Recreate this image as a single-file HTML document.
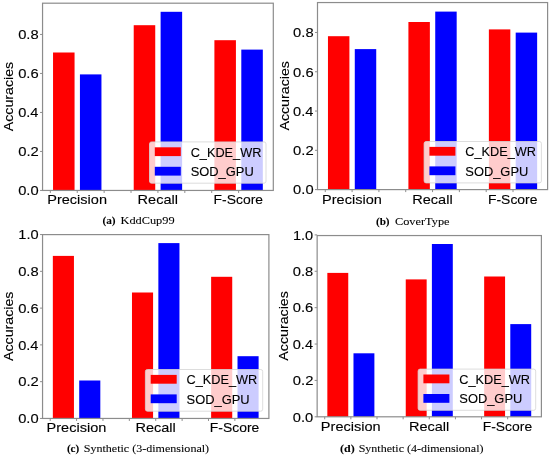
<!DOCTYPE html>
<html><head><meta charset="utf-8"><title>Accuracies</title>
<style>
html,body{margin:0;padding:0;background:#fff;}
body{width:550px;height:457px;overflow:hidden;}
svg{display:block;will-change:transform;}
text{font-family:"Liberation Sans",sans-serif;font-size:13.3px;fill:#000;stroke:#000;stroke-width:0.12px;}
text.cap,text.capb{font-family:"Liberation Serif",serif;font-size:10.8px;fill:#000;stroke:#000;stroke-width:0.08px;}
text.capb{font-weight:bold;}
</style></head>
<body>
<svg width="550" height="457" viewBox="0 0 550 457">
<rect width="550" height="457" fill="#fff"/>
<rect x="53.04" y="52.5" width="21.52" height="137.95" fill="#ff0000"/>
<rect x="79.93" y="74.4" width="21.52" height="116.05" fill="#0000ff"/>
<rect x="133.72" y="25.2" width="21.52" height="165.25" fill="#ff0000"/>
<rect x="160.61" y="11.8" width="21.52" height="178.65" fill="#0000ff"/>
<rect x="214.4" y="40.2" width="21.52" height="150.25" fill="#ff0000"/>
<rect x="241.3" y="49.6" width="21.52" height="140.85" fill="#0000ff"/>
<rect x="149.5" y="141.9" width="116.5" height="41.3" rx="2" ry="2" fill="#fff" fill-opacity="0.8" stroke="#d4d4d4" stroke-width="0.8"/>
<rect x="154.8" y="147.3" width="26" height="8.8" fill="#ff0000"/>
<rect x="154.8" y="166.8" width="26" height="8.8" fill="#0000ff"/>
<text x="190.65" y="156.6" textLength="70.74" lengthAdjust="spacingAndGlyphs">C_KDE_WR</text>
<text x="190.71" y="176.1" textLength="62.99" lengthAdjust="spacingAndGlyphs">SOD_GPU</text>
<rect x="42.55" y="3.2" width="230.75" height="187.25" fill="none" stroke="#8c8c8c" stroke-width="1.2"/>
<line x1="40.05" y1="190.45" x2="42.55" y2="190.45" stroke="#8c8c8c" stroke-width="1"/>
<text x="18.18" y="195.25" textLength="20.45" lengthAdjust="spacingAndGlyphs">0.0</text>
<line x1="40.05" y1="151.45" x2="42.55" y2="151.45" stroke="#8c8c8c" stroke-width="1"/>
<text x="18.17" y="156.25" textLength="20.62" lengthAdjust="spacingAndGlyphs">0.2</text>
<line x1="40.05" y1="112.45" x2="42.55" y2="112.45" stroke="#8c8c8c" stroke-width="1"/>
<text x="18.18" y="117.25" textLength="20.29" lengthAdjust="spacingAndGlyphs">0.4</text>
<line x1="40.05" y1="73.45" x2="42.55" y2="73.45" stroke="#8c8c8c" stroke-width="1"/>
<text x="18.17" y="78.25" textLength="20.53" lengthAdjust="spacingAndGlyphs">0.6</text>
<line x1="40.05" y1="34.45" x2="42.55" y2="34.45" stroke="#8c8c8c" stroke-width="1"/>
<text x="18.17" y="39.25" textLength="20.51" lengthAdjust="spacingAndGlyphs">0.8</text>
<line x1="50.35" y1="190.45" x2="50.35" y2="192.95" stroke="#8c8c8c" stroke-width="1"/>
<line x1="77.24" y1="190.45" x2="77.24" y2="192.95" stroke="#8c8c8c" stroke-width="1"/>
<line x1="104.14" y1="190.45" x2="104.14" y2="192.95" stroke="#8c8c8c" stroke-width="1"/>
<line x1="131.03" y1="190.45" x2="131.03" y2="192.95" stroke="#8c8c8c" stroke-width="1"/>
<line x1="157.93" y1="190.45" x2="157.93" y2="192.95" stroke="#8c8c8c" stroke-width="1"/>
<line x1="184.82" y1="190.45" x2="184.82" y2="192.95" stroke="#8c8c8c" stroke-width="1"/>
<line x1="211.71" y1="190.45" x2="211.71" y2="192.95" stroke="#8c8c8c" stroke-width="1"/>
<line x1="238.61" y1="190.45" x2="238.61" y2="192.95" stroke="#8c8c8c" stroke-width="1"/>
<text x="47.25" y="204.1" textLength="59.73" lengthAdjust="spacingAndGlyphs">Precision</text>
<text x="137.63" y="204.1" textLength="40.36" lengthAdjust="spacingAndGlyphs">Recall</text>
<text x="213.62" y="204.1" textLength="49.45" lengthAdjust="spacingAndGlyphs">F-Score</text>
<g transform="translate(12.7,96.82) rotate(-90)"><text x="-34.48" y="0" textLength="69.43" lengthAdjust="spacingAndGlyphs">Accuracies</text></g>
<text class="capb" x="102.4" y="224.4" textLength="13.2" lengthAdjust="spacingAndGlyphs">(a)</text>
<text class="cap" x="120.54" y="224.4" textLength="54.06" lengthAdjust="spacingAndGlyphs">KddCup99</text>
<rect x="327.96" y="36.2" width="21.45" height="153.4" fill="#ff0000"/>
<rect x="354.78" y="49.1" width="21.45" height="140.5" fill="#0000ff"/>
<rect x="408.41" y="22" width="21.45" height="167.6" fill="#ff0000"/>
<rect x="435.23" y="11.6" width="21.45" height="178" fill="#0000ff"/>
<rect x="488.87" y="29.4" width="21.45" height="160.2" fill="#ff0000"/>
<rect x="515.69" y="32.6" width="21.45" height="157" fill="#0000ff"/>
<rect x="424.1" y="141.5" width="117.3" height="41.4" rx="2" ry="2" fill="#fff" fill-opacity="0.8" stroke="#d4d4d4" stroke-width="0.8"/>
<rect x="429.4" y="146.9" width="26" height="8.8" fill="#ff0000"/>
<rect x="429.4" y="166.4" width="26" height="8.8" fill="#0000ff"/>
<text x="465.25" y="156.2" textLength="70.74" lengthAdjust="spacingAndGlyphs">C_KDE_WR</text>
<text x="465.31" y="175.7" textLength="62.99" lengthAdjust="spacingAndGlyphs">SOD_GPU</text>
<rect x="317.5" y="2.55" width="230.1" height="187.05" fill="none" stroke="#8c8c8c" stroke-width="1.2"/>
<line x1="315" y1="189.6" x2="317.5" y2="189.6" stroke="#8c8c8c" stroke-width="1"/>
<text x="293.13" y="194.4" textLength="20.45" lengthAdjust="spacingAndGlyphs">0.0</text>
<line x1="315" y1="150.32" x2="317.5" y2="150.32" stroke="#8c8c8c" stroke-width="1"/>
<text x="293.12" y="155.12" textLength="20.62" lengthAdjust="spacingAndGlyphs">0.2</text>
<line x1="315" y1="111.04" x2="317.5" y2="111.04" stroke="#8c8c8c" stroke-width="1"/>
<text x="293.13" y="115.84" textLength="20.29" lengthAdjust="spacingAndGlyphs">0.4</text>
<line x1="315" y1="71.76" x2="317.5" y2="71.76" stroke="#8c8c8c" stroke-width="1"/>
<text x="293.12" y="76.56" textLength="20.53" lengthAdjust="spacingAndGlyphs">0.6</text>
<line x1="315" y1="32.48" x2="317.5" y2="32.48" stroke="#8c8c8c" stroke-width="1"/>
<text x="293.12" y="37.28" textLength="20.51" lengthAdjust="spacingAndGlyphs">0.8</text>
<line x1="325.28" y1="189.6" x2="325.28" y2="192.1" stroke="#8c8c8c" stroke-width="1"/>
<line x1="352.1" y1="189.6" x2="352.1" y2="192.1" stroke="#8c8c8c" stroke-width="1"/>
<line x1="378.91" y1="189.6" x2="378.91" y2="192.1" stroke="#8c8c8c" stroke-width="1"/>
<line x1="405.73" y1="189.6" x2="405.73" y2="192.1" stroke="#8c8c8c" stroke-width="1"/>
<line x1="432.55" y1="189.6" x2="432.55" y2="192.1" stroke="#8c8c8c" stroke-width="1"/>
<line x1="459.37" y1="189.6" x2="459.37" y2="192.1" stroke="#8c8c8c" stroke-width="1"/>
<line x1="486.19" y1="189.6" x2="486.19" y2="192.1" stroke="#8c8c8c" stroke-width="1"/>
<line x1="513" y1="189.6" x2="513" y2="192.1" stroke="#8c8c8c" stroke-width="1"/>
<text x="322.1" y="203.6" textLength="59.73" lengthAdjust="spacingAndGlyphs">Precision</text>
<text x="412.26" y="203.6" textLength="40.36" lengthAdjust="spacingAndGlyphs">Recall</text>
<text x="488.01" y="203.6" textLength="49.45" lengthAdjust="spacingAndGlyphs">F-Score</text>
<g transform="translate(288.6,96.08) rotate(-90)"><text x="-34.48" y="0" textLength="69.43" lengthAdjust="spacingAndGlyphs">Accuracies</text></g>
<text class="capb" x="375.91" y="224.6" textLength="13.69" lengthAdjust="spacingAndGlyphs">(b)</text>
<text class="cap" x="395" y="224.6" textLength="54.53" lengthAdjust="spacingAndGlyphs">CoverType</text>
<rect x="52.84" y="255.9" width="21.1" height="162.55" fill="#ff0000"/>
<rect x="79.22" y="380.5" width="21.1" height="37.95" fill="#0000ff"/>
<rect x="131.98" y="292.5" width="21.1" height="125.95" fill="#ff0000"/>
<rect x="158.36" y="243.1" width="21.1" height="175.35" fill="#0000ff"/>
<rect x="211.13" y="276.8" width="21.1" height="141.65" fill="#ff0000"/>
<rect x="237.51" y="356.2" width="21.1" height="62.25" fill="#0000ff"/>
<rect x="145.4" y="369.5" width="117.3" height="41.7" rx="2" ry="2" fill="#fff" fill-opacity="0.8" stroke="#d4d4d4" stroke-width="0.8"/>
<rect x="150.7" y="374.9" width="26" height="8.8" fill="#ff0000"/>
<rect x="150.7" y="394.4" width="26" height="8.8" fill="#0000ff"/>
<text x="186.55" y="384.2" textLength="70.74" lengthAdjust="spacingAndGlyphs">C_KDE_WR</text>
<text x="186.61" y="403.7" textLength="62.99" lengthAdjust="spacingAndGlyphs">SOD_GPU</text>
<rect x="42.55" y="234.6" width="226.35" height="183.85" fill="none" stroke="#8c8c8c" stroke-width="1.2"/>
<line x1="40.05" y1="418.45" x2="42.55" y2="418.45" stroke="#8c8c8c" stroke-width="1"/>
<text x="18.18" y="423.25" textLength="20.45" lengthAdjust="spacingAndGlyphs">0.0</text>
<line x1="40.05" y1="381.67" x2="42.55" y2="381.67" stroke="#8c8c8c" stroke-width="1"/>
<text x="18.17" y="386.47" textLength="20.62" lengthAdjust="spacingAndGlyphs">0.2</text>
<line x1="40.05" y1="344.89" x2="42.55" y2="344.89" stroke="#8c8c8c" stroke-width="1"/>
<text x="18.18" y="349.69" textLength="20.29" lengthAdjust="spacingAndGlyphs">0.4</text>
<line x1="40.05" y1="308.11" x2="42.55" y2="308.11" stroke="#8c8c8c" stroke-width="1"/>
<text x="18.17" y="312.91" textLength="20.53" lengthAdjust="spacingAndGlyphs">0.6</text>
<line x1="40.05" y1="271.33" x2="42.55" y2="271.33" stroke="#8c8c8c" stroke-width="1"/>
<text x="18.17" y="276.13" textLength="20.51" lengthAdjust="spacingAndGlyphs">0.8</text>
<line x1="40.05" y1="234.55" x2="42.55" y2="234.55" stroke="#8c8c8c" stroke-width="1"/>
<text x="18.34" y="239.35" textLength="20.28" lengthAdjust="spacingAndGlyphs">1.0</text>
<line x1="50.2" y1="418.45" x2="50.2" y2="420.95" stroke="#8c8c8c" stroke-width="1"/>
<line x1="76.58" y1="418.45" x2="76.58" y2="420.95" stroke="#8c8c8c" stroke-width="1"/>
<line x1="102.96" y1="418.45" x2="102.96" y2="420.95" stroke="#8c8c8c" stroke-width="1"/>
<line x1="129.34" y1="418.45" x2="129.34" y2="420.95" stroke="#8c8c8c" stroke-width="1"/>
<line x1="155.72" y1="418.45" x2="155.72" y2="420.95" stroke="#8c8c8c" stroke-width="1"/>
<line x1="182.11" y1="418.45" x2="182.11" y2="420.95" stroke="#8c8c8c" stroke-width="1"/>
<line x1="208.49" y1="418.45" x2="208.49" y2="420.95" stroke="#8c8c8c" stroke-width="1"/>
<line x1="234.87" y1="418.45" x2="234.87" y2="420.95" stroke="#8c8c8c" stroke-width="1"/>
<text x="46.59" y="431.6" textLength="59.73" lengthAdjust="spacingAndGlyphs">Precision</text>
<text x="135.43" y="431.6" textLength="40.36" lengthAdjust="spacingAndGlyphs">Recall</text>
<text x="209.88" y="431.6" textLength="49.45" lengthAdjust="spacingAndGlyphs">F-Score</text>
<g transform="translate(13.1,326.52) rotate(-90)"><text x="-34.48" y="0" textLength="69.43" lengthAdjust="spacingAndGlyphs">Accuracies</text></g>
<text class="capb" x="66.91" y="451.9" textLength="12.38" lengthAdjust="spacingAndGlyphs">(c)</text>
<text class="cap" x="83.69" y="451.9" textLength="125.43" lengthAdjust="spacingAndGlyphs">Synthetic (3-dimensional)</text>
<rect x="327.34" y="272.9" width="20.91" height="143.9" fill="#ff0000"/>
<rect x="353.48" y="353.3" width="20.91" height="63.5" fill="#0000ff"/>
<rect x="405.75" y="279.4" width="20.91" height="137.4" fill="#ff0000"/>
<rect x="431.89" y="244" width="20.91" height="172.8" fill="#0000ff"/>
<rect x="484.16" y="276.5" width="20.91" height="140.3" fill="#ff0000"/>
<rect x="510.3" y="324.1" width="20.91" height="92.7" fill="#0000ff"/>
<rect x="418.1" y="369.1" width="117.6" height="41.2" rx="2" ry="2" fill="#fff" fill-opacity="0.8" stroke="#d4d4d4" stroke-width="0.8"/>
<rect x="423.4" y="374.5" width="26" height="8.8" fill="#ff0000"/>
<rect x="423.4" y="394" width="26" height="8.8" fill="#0000ff"/>
<text x="459.25" y="383.8" textLength="70.74" lengthAdjust="spacingAndGlyphs">C_KDE_WR</text>
<text x="459.31" y="403.3" textLength="62.99" lengthAdjust="spacingAndGlyphs">SOD_GPU</text>
<rect x="317.15" y="235.55" width="224.25" height="181.25" fill="none" stroke="#8c8c8c" stroke-width="1.2"/>
<line x1="314.65" y1="416.8" x2="317.15" y2="416.8" stroke="#8c8c8c" stroke-width="1"/>
<text x="292.78" y="421.6" textLength="20.45" lengthAdjust="spacingAndGlyphs">0.0</text>
<line x1="314.65" y1="380.42" x2="317.15" y2="380.42" stroke="#8c8c8c" stroke-width="1"/>
<text x="292.77" y="385.22" textLength="20.62" lengthAdjust="spacingAndGlyphs">0.2</text>
<line x1="314.65" y1="344.04" x2="317.15" y2="344.04" stroke="#8c8c8c" stroke-width="1"/>
<text x="292.78" y="348.84" textLength="20.29" lengthAdjust="spacingAndGlyphs">0.4</text>
<line x1="314.65" y1="307.66" x2="317.15" y2="307.66" stroke="#8c8c8c" stroke-width="1"/>
<text x="292.77" y="312.46" textLength="20.53" lengthAdjust="spacingAndGlyphs">0.6</text>
<line x1="314.65" y1="271.28" x2="317.15" y2="271.28" stroke="#8c8c8c" stroke-width="1"/>
<text x="292.77" y="276.08" textLength="20.51" lengthAdjust="spacingAndGlyphs">0.8</text>
<line x1="314.65" y1="234.9" x2="317.15" y2="234.9" stroke="#8c8c8c" stroke-width="1"/>
<text x="292.94" y="239.7" textLength="20.28" lengthAdjust="spacingAndGlyphs">1.0</text>
<line x1="324.73" y1="416.8" x2="324.73" y2="419.3" stroke="#8c8c8c" stroke-width="1"/>
<line x1="350.87" y1="416.8" x2="350.87" y2="419.3" stroke="#8c8c8c" stroke-width="1"/>
<line x1="377" y1="416.8" x2="377" y2="419.3" stroke="#8c8c8c" stroke-width="1"/>
<line x1="403.14" y1="416.8" x2="403.14" y2="419.3" stroke="#8c8c8c" stroke-width="1"/>
<line x1="429.27" y1="416.8" x2="429.27" y2="419.3" stroke="#8c8c8c" stroke-width="1"/>
<line x1="455.41" y1="416.8" x2="455.41" y2="419.3" stroke="#8c8c8c" stroke-width="1"/>
<line x1="481.55" y1="416.8" x2="481.55" y2="419.3" stroke="#8c8c8c" stroke-width="1"/>
<line x1="507.68" y1="416.8" x2="507.68" y2="419.3" stroke="#8c8c8c" stroke-width="1"/>
<text x="320.87" y="430.9" textLength="59.73" lengthAdjust="spacingAndGlyphs">Precision</text>
<text x="408.98" y="430.9" textLength="40.36" lengthAdjust="spacingAndGlyphs">Recall</text>
<text x="482.69" y="430.9" textLength="49.45" lengthAdjust="spacingAndGlyphs">F-Score</text>
<g transform="translate(287.6,326.18) rotate(-90)"><text x="-34.48" y="0" textLength="69.43" lengthAdjust="spacingAndGlyphs">Accuracies</text></g>
<text class="capb" x="340.07" y="451.9" textLength="14.66" lengthAdjust="spacingAndGlyphs">(d)</text>
<text class="cap" x="358.7" y="451.9" textLength="124.82" lengthAdjust="spacingAndGlyphs">Synthetic (4-dimensional)</text>
</svg>
</body></html>
